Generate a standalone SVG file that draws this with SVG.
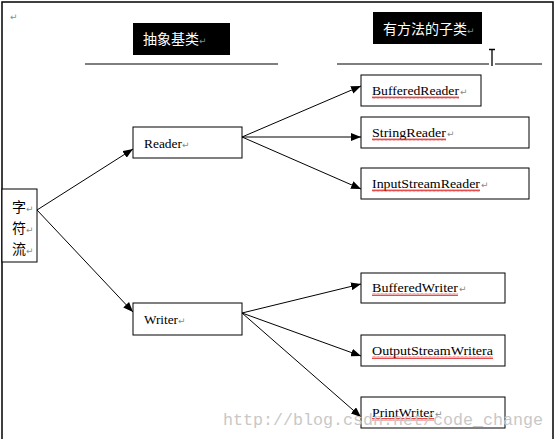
<svg xmlns="http://www.w3.org/2000/svg" width="555" height="439" viewBox="0 0 555 439">
<defs>
<style>
.box{fill:#fff;stroke:#000;stroke-width:1}
.lbl{font-family:"Liberation Serif","Times New Roman",serif;font-size:13.5px;fill:#000}
.cjk{font-family:"Noto Sans CJK SC","Noto Sans CJK TC",sans-serif;font-size:14px}
.ret{font-family:"DejaVu Sans",sans-serif;font-size:9px;fill:#8a8a8a}
.conn line{stroke:#000;stroke-width:1}
.rule{stroke:#000;stroke-width:1.2}
.wm{font-family:"Liberation Mono","Courier New",monospace;font-size:17px;fill:#c8c8c8}
</style>
<marker id="arr" viewBox="0 0 10 8" refX="10" refY="4" markerWidth="10" markerHeight="8" markerUnits="userSpaceOnUse" orient="auto">
<path d="M0,0 L10,4 L0,8 Z" fill="#000"/>
</marker>
<pattern id="wavy" width="4" height="3" patternUnits="userSpaceOnUse">
<path d="M0,2.5 L1,0.5 L2,2.5 L3,0.5 L4,2.5" fill="none" stroke="#e02020" stroke-width="0.8"/>
</pattern>
</defs>
<rect width="555" height="439" fill="#fff"/>
<!-- page border -->
<path d="M2,439 L2,2 L553,2 L553,439" fill="none" stroke="#000" stroke-width="1.5"/>
<text class="ret" x="10" y="20">↵</text>

<!-- headers -->
<g id="hdr-abstract">
<rect x="133" y="23" width="97" height="32" fill="#000"/>
<text class="cjk" x="143" y="44" fill="#fff">抽象基类<tspan class="ret">↵</tspan></text>
<line class="rule" x1="85" y1="64" x2="278" y2="64"/>
</g>
<g id="hdr-sub">
<rect x="373" y="12" width="109" height="32" fill="#000"/>
<text class="cjk" x="383" y="34" fill="#fff">有方法的子类<tspan class="ret">↵</tspan></text>
<line class="rule" x1="337" y1="64" x2="489" y2="64"/>
<line class="rule" x1="495" y1="64" x2="542" y2="64"/>
<path d="M489,49.5 L495,49.5 M492,49.5 L492,66" fill="none" stroke="#000" stroke-width="1.3"/>
</g>

<!-- connectors -->
<g class="conn">
<line x1="37" y1="210" x2="133" y2="149" marker-end="url(#arr)"/>
<line x1="37" y1="210" x2="133" y2="312" marker-end="url(#arr)"/>
<line x1="242" y1="137" x2="361" y2="86" marker-end="url(#arr)"/>
<line x1="242" y1="137" x2="361" y2="137" marker-end="url(#arr)"/>
<line x1="242" y1="137" x2="361" y2="189" marker-end="url(#arr)"/>
<line x1="242" y1="313" x2="361" y2="284" marker-end="url(#arr)"/>
<line x1="242" y1="313" x2="361" y2="356" marker-end="url(#arr)"/>
<line x1="242" y1="313" x2="361" y2="417" marker-end="url(#arr)"/>
</g>

<g id="n-charstream">
<rect class="box" x="2" y="189" width="35" height="73"/>
<text class="cjk" x="12" y="212" font-size="13">字<tspan class="ret">↵</tspan></text>
<text class="cjk" x="12" y="233" font-size="13">符<tspan class="ret">↵</tspan></text>
<text class="cjk" x="12" y="254" font-size="13">流<tspan class="ret">↵</tspan></text>
</g>

<g id="n-reader">
<rect class="box" x="133" y="127" width="109" height="31"/>
<text class="lbl" x="144" y="148" textLength="38" lengthAdjust="spacingAndGlyphs">Reader</text>
<text class="ret" x="182" y="148">↵</text>
</g>
<g id="n-writer">
<rect class="box" x="133" y="303" width="109" height="32"/>
<text class="lbl" x="144" y="324" textLength="34" lengthAdjust="spacingAndGlyphs">Writer</text>
<text class="ret" x="178" y="324">↵</text>
</g>

<g id="n-bufferedreader">
<rect class="box" x="361" y="75" width="120" height="31"/>
<text class="lbl" x="372" y="95" textLength="87" lengthAdjust="spacingAndGlyphs">BufferedReader</text>
<text class="ret" x="460" y="95">↵</text>
<rect x="372" y="96" width="87" height="3" fill="url(#wavy)"/>
</g>
<g id="n-stringreader">
<rect class="box" x="361" y="117" width="168" height="31"/>
<text class="lbl" x="372" y="137" textLength="74" lengthAdjust="spacingAndGlyphs">StringReader</text>
<text class="ret" x="447" y="137">↵</text>
<rect x="372" y="138" width="74" height="3" fill="url(#wavy)"/>
</g>
<g id="n-inputstreamreader">
<rect class="box" x="361" y="168" width="168" height="31"/>
<text class="lbl" x="372" y="188" textLength="108" lengthAdjust="spacingAndGlyphs">InputStreamReader</text>
<text class="ret" x="481" y="188">↵</text>
<rect x="372" y="189" width="108" height="3" fill="url(#wavy)"/>
</g>
<g id="n-bufferedwriter">
<rect class="box" x="361" y="273" width="144" height="30"/>
<text class="lbl" x="372" y="292" textLength="86" lengthAdjust="spacingAndGlyphs">BufferedWriter</text>
<text class="ret" x="459" y="292">↵</text>
<rect x="372" y="293" width="86" height="3" fill="url(#wavy)"/>
</g>
<g id="n-outputstreamwriter">
<rect class="box" x="361" y="335" width="144" height="31"/>
<text class="lbl" x="372" y="355" textLength="121" lengthAdjust="spacingAndGlyphs">OutputStreamWritera</text>
<rect x="372" y="356" width="121" height="3" fill="url(#wavy)"/>
</g>
<g id="n-printwriter">
<rect class="box" x="361" y="397" width="144" height="31"/>
<text class="lbl" x="372" y="417" textLength="62" lengthAdjust="spacingAndGlyphs">PrintWriter</text>
<text class="ret" x="435" y="417">↵</text>
<rect x="372" y="418" width="62" height="3" fill="url(#wavy)"/>
</g>

<text class="wm" x="223" y="425" textLength="320" lengthAdjust="spacingAndGlyphs">http://blog.csdn.net/code_change</text>
</svg>
